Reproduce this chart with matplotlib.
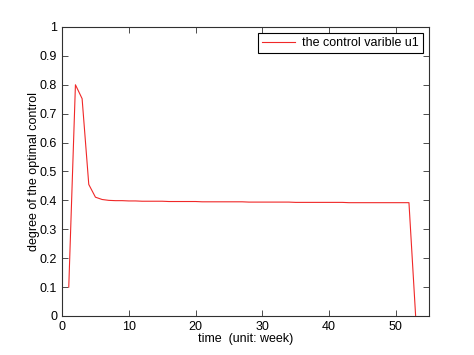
import matplotlib
matplotlib.use("Agg")
import matplotlib.pyplot as plt

plt.rcParams['font.family'] = ['Liberation Sans', 'DejaVu Sans']

weeks = list(range(1, 54))
u1 = [0.10, 0.80, 0.752, 0.455, 0.411, 0.403, 0.400, 0.399, 0.399, 0.398,
      0.398, 0.397, 0.397, 0.397, 0.397, 0.396, 0.396, 0.396, 0.396, 0.396,
      0.395, 0.395, 0.395, 0.395, 0.395, 0.395, 0.395, 0.394, 0.394, 0.394,
      0.394, 0.394, 0.394, 0.394, 0.393, 0.393, 0.393, 0.393, 0.393, 0.393,
      0.393, 0.393, 0.392, 0.392, 0.392, 0.392, 0.392, 0.392, 0.392, 0.392,
      0.392, 0.392, 0.0]
xticks = [0, 10, 20, 30, 40, 50]
yticks = [0, 0.1, 0.2, 0.3, 0.4, 0.5, 0.6, 0.7, 0.8, 0.9, 1]
ytick_labels = ['0', '0.1', '0.2', '0.3', '0.4', '0.5', '0.6', '0.7', '0.8', '0.9', '1']

fig = plt.figure(figsize=(4.74, 3.55), dpi=100)
ax = fig.add_axes([0.131, 0.11, 0.774, 0.814])
ax.plot(weeks, u1, color='#f02828', linewidth=0.8, label='the control varible u1')
ax.set_xlim(0, 55)
ax.set_ylim(0, 1)
ax.set_xticks(xticks)
ax.set_yticks(yticks)
ax.set_yticklabels(ytick_labels)
ax.tick_params(direction='in', top=True, right=True, labelsize=9, length=4,
               width=0.6, colors='#303030', labelcolor='black')
for s in ax.spines.values():
    s.set_linewidth(0.8)
    s.set_color('#303030')
ax.set_xlabel('time  (unit: week)', fontsize=9, labelpad=0)
ax.set_ylabel('degree of the optimal control', fontsize=9, labelpad=0)
leg = ax.legend(loc='upper right', fontsize=9, fancybox=False, framealpha=1,
                edgecolor='black', handlelength=2.6, borderpad=0.3,
                handletextpad=0.6, borderaxespad=0.5)
leg.get_frame().set_linewidth(0.8)
fig.savefig('out.png', dpi=100)
